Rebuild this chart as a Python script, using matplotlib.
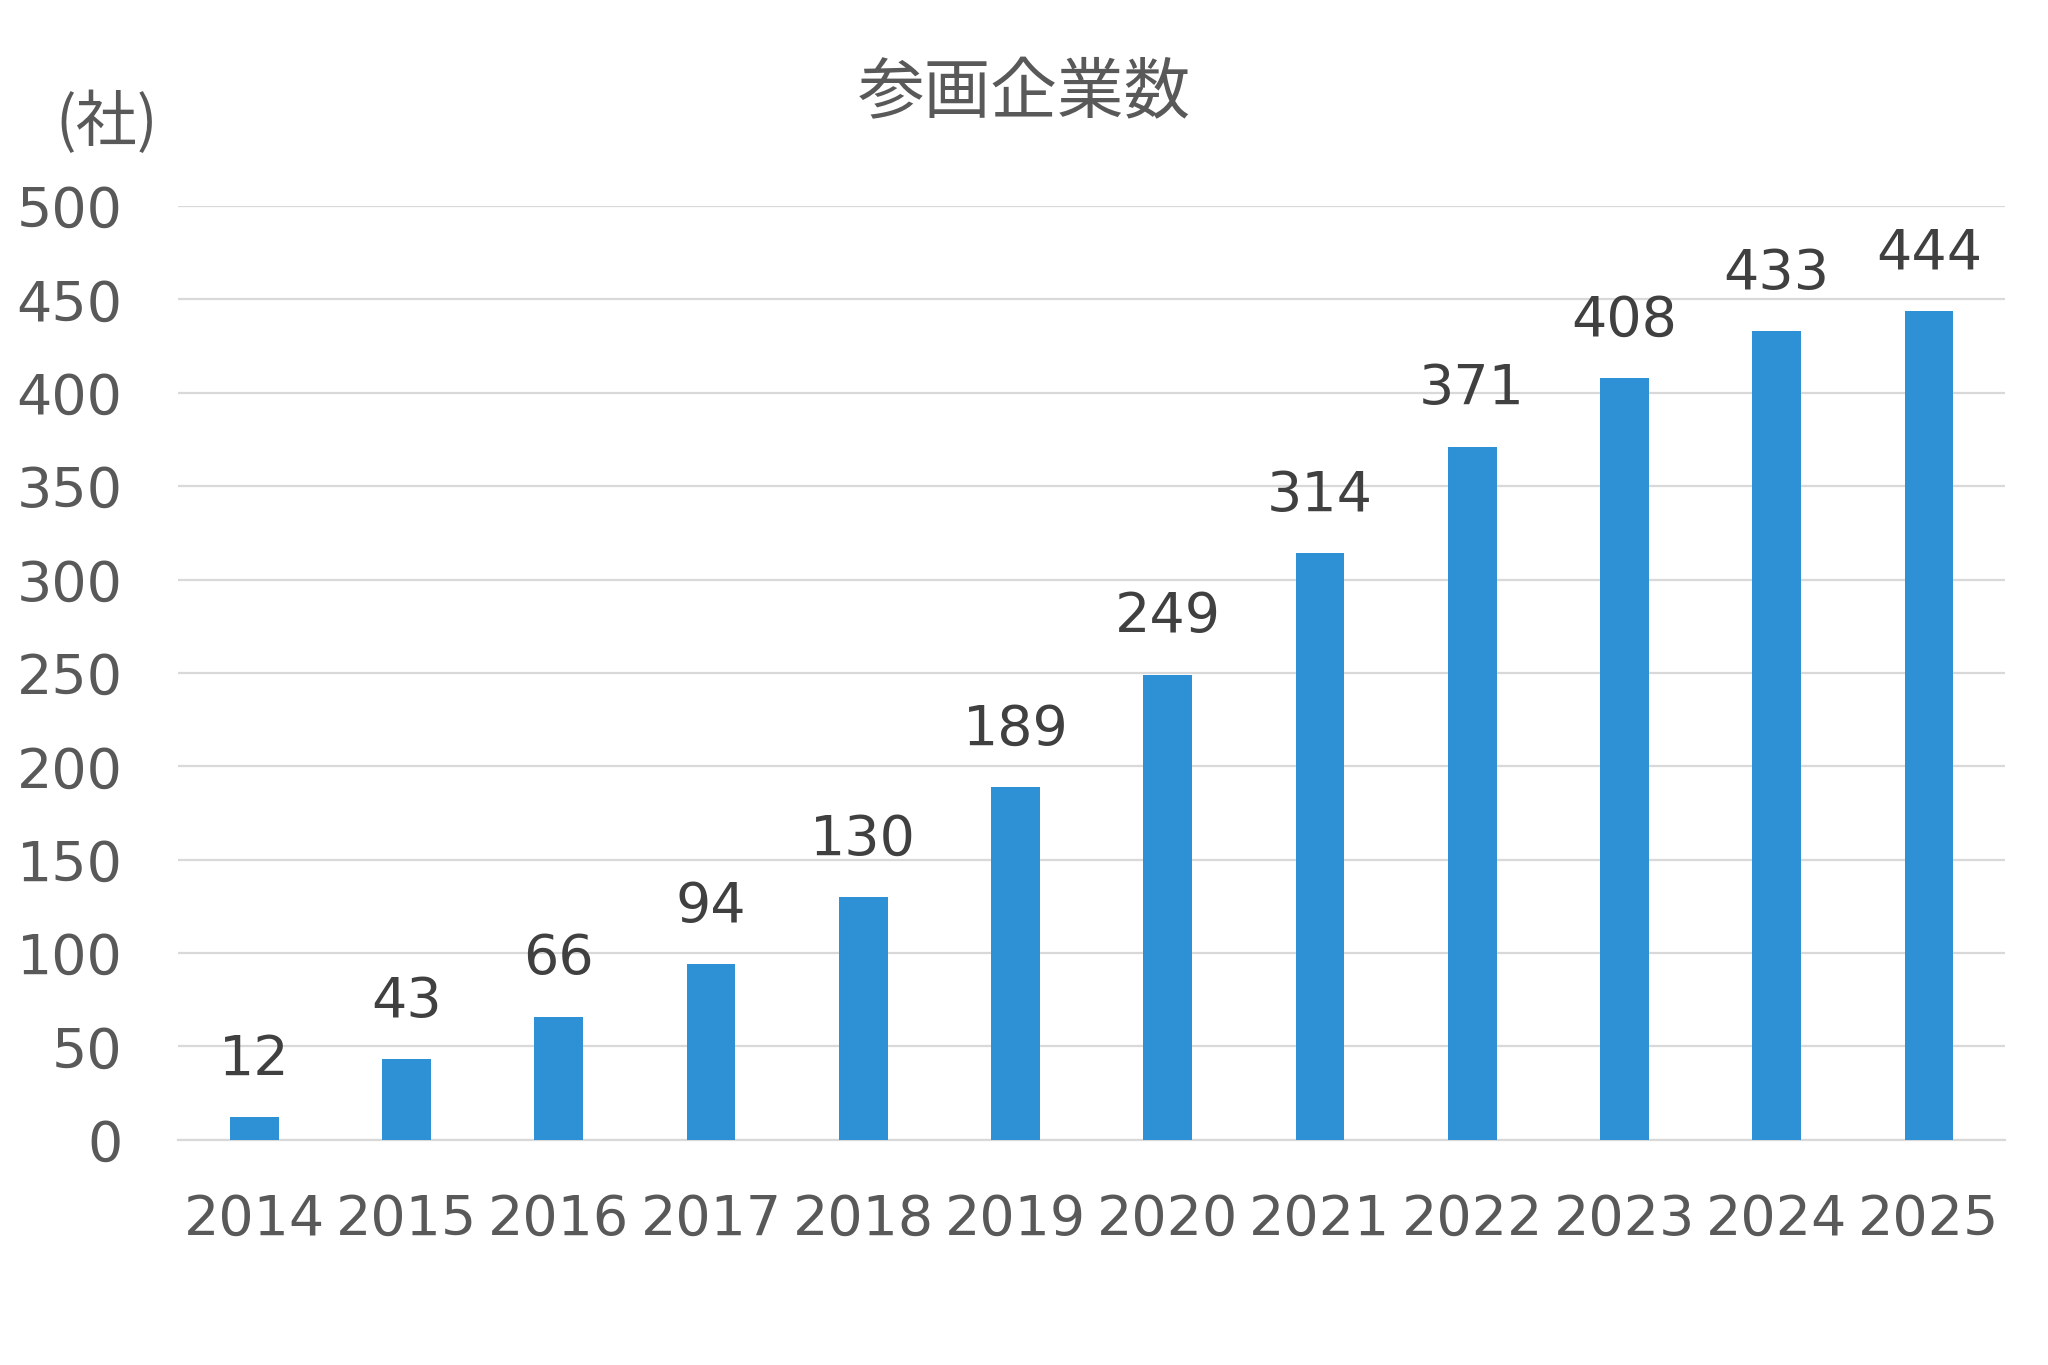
import matplotlib
matplotlib.use('Agg')
import matplotlib.pyplot as plt
import numpy as np

years = ['2014', '2015', '2016', '2017', '2018', '2019',
         '2020', '2021', '2022', '2023', '2024', '2025']
companies = [12, 43, 66, 94, 130, 189, 249, 314, 371, 408, 433, 444]
yticks = [0, 50, 100, 150, 200, 250, 300, 350, 400, 450, 500]

plt.rcParams['font.family'] = ['DejaVu Sans', 'Noto Sans CJK JP']

fig = plt.figure(figsize=(10.24, 6.825), dpi=200)
ax = fig.add_axes([0.087, 0.165, 0.892, 0.684])

x = np.arange(len(years))
bars = ax.bar(x, companies, width=0.32, color='#2E91D5', zorder=3)

for xi, v in zip(x, companies):
    ax.annotate(str(v), (xi, v), xytext=(0, 11), textcoords='offset points',
                ha='center', va='bottom', fontsize=20, color='#404040')

ax.set_xlim(-0.5, len(years) - 0.5)
ax.set_ylim(0, 500)
ax.set_yticks(yticks)
ax.set_xticks(x)
ax.set_xticklabels(years)
ax.tick_params(axis='both', length=0, labelsize=20, labelcolor='#595959')
ax.tick_params(axis='y', pad=20)
ax.tick_params(axis='x', pad=19)
ax.grid(axis='y', color='#D9D9D9', linewidth=0.8, zorder=0)
for s in ['top', 'right', 'left']:
    ax.spines[s].set_visible(False)
ax.spines['bottom'].set_color('#D9D9D9')
ax.spines['bottom'].set_linewidth(0.8)

fig.text(0.50, 0.931, '参画企業数', ha='center', va='center',
         fontsize=24, color='#595959', family=['Noto Sans CJK JP'])
fig.text(0.052, 0.910, '(社)', ha='center', va='center',
         fontsize=22, color='#595959', family=['Noto Sans CJK JP'])

fig.savefig('out.png', dpi=200)
